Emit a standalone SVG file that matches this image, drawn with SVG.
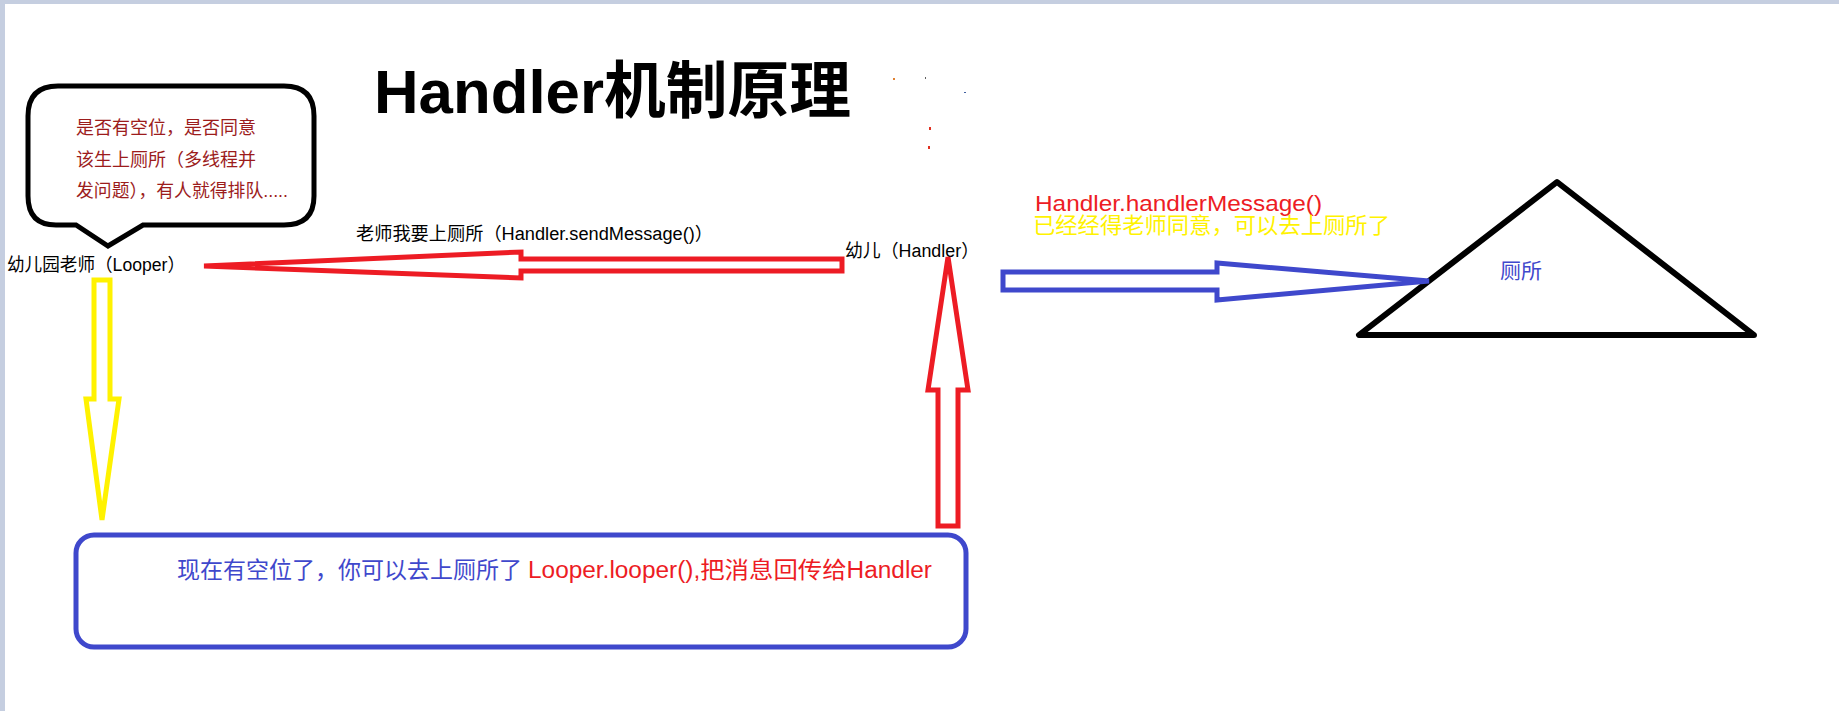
<svg xmlns="http://www.w3.org/2000/svg" width="1839" height="711" viewBox="0 0 1839 711">
<style>
.t{font-family:"Liberation Sans","Noto Sans CJK SC",sans-serif}
.ln{fill:none;stroke-width:5;stroke-linejoin:miter}
</style>
<rect x="0" y="0" width="1839" height="711" fill="#ffffff"/>
<rect x="0" y="0" width="1839" height="4" fill="#c5cee0"/>
<rect x="0" y="0" width="5" height="711" fill="#c5cee0"/>

<g id="title">
<text class="t" x="374" y="113" font-size="62" font-weight="bold" fill="#000" textLength="477" lengthAdjust="spacingAndGlyphs">Handler机制原理</text>
</g>
<g id="specks" fill="#e03020">
<rect x="893" y="78" width="2" height="2" fill="#e08030"/>
<rect x="925" y="77" width="1" height="2" fill="#606060"/>
<rect x="964" y="92" width="2" height="1" fill="#4060a0"/>
<rect x="929" y="127" width="2" height="3"/>
<rect x="928" y="146" width="2" height="3"/>
</g>

<g id="bubble">
<path class="ln" stroke="#000" d="M58,86 H284 Q314,86 314,116 V196 Q314,225 284,225 H143 L108,246 L76,225 H56 Q28,225 28,196 V116 Q28,86 58,86 Z"/>
<text class="t" font-size="18" fill="#9c1c1c"><tspan x="76" y="134">是否有空位，是否同意</tspan><tspan x="76" y="166">该生上厕所（多线程并</tspan><tspan x="76" y="197" textLength="212" lengthAdjust="spacingAndGlyphs">发问题），有人就得排队.....</tspan></text>
</g>

<g id="teacher">
<text class="t" x="7" y="271" font-size="18" fill="#000" textLength="178" lengthAdjust="spacingAndGlyphs">幼儿园老师（Looper）</text>
</g>

<g id="child">
<text class="t" x="845" y="257" font-size="18" fill="#000" textLength="134" lengthAdjust="spacingAndGlyphs">幼儿（Handler）</text>
</g>

<g id="toilet">
<polygon points="1557,182 1359,335 1754,335" fill="none" stroke="#000" stroke-width="6" stroke-linejoin="round"/>
<text class="t" x="1500" y="278" font-size="21" fill="#3f48cc">厕所</text>
</g>

<g id="looper-box">
<rect x="76" y="535" width="890" height="112" rx="18" fill="none" stroke="#3f48cc" stroke-width="5"/>
<text class="t" y="578" font-size="23"><tspan x="177" fill="#3f48cc" textLength="345" lengthAdjust="spacingAndGlyphs">现在有空位了，你可以去上厕所了</tspan><tspan x="528" fill="#ed1c24" textLength="404" lengthAdjust="spacingAndGlyphs">Looper.looper(),把消息回传给Handler</tspan></text>
</g>

<g id="connectors">
<!-- child -> teacher (red, left) -->
<polygon class="ln" stroke="#ed1c24" points="204,266 521,252 521,259 842,259 842,271 521,271 521,278"/>
<text class="t" x="356" y="240" font-size="18" fill="#000" textLength="357" lengthAdjust="spacingAndGlyphs">老师我要上厕所（Handler.sendMessage()）</text>
<!-- teacher -> box (yellow, down) -->
<polygon class="ln" stroke="#fff200" points="94,280 110,280 110,399 119,399 102,520 86,399 94,399"/>
<!-- box -> child (red, up) -->
<polygon class="ln" stroke="#ed1c24" points="948,257 968,390 958,390 958,526 938,526 938,390 928,390"/>
<!-- child -> toilet (blue, right) -->
<polygon class="ln" stroke="#3f48cc" points="1003,272 1217,272 1217,263 1429,281 1217,300 1217,290 1003,290"/>
<text class="t" x="1035" y="211" font-size="22" fill="#ed1c24" textLength="287" lengthAdjust="spacingAndGlyphs">Handler.handlerMessage()</text>
<text class="t" x="1033" y="233" font-size="22" fill="#fff200" textLength="357" lengthAdjust="spacingAndGlyphs">已经经得老师同意，可以去上厕所了</text>
</g>
</svg>
